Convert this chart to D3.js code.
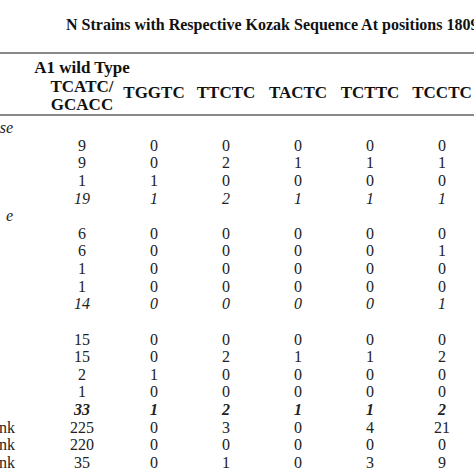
<!DOCTYPE html>
<html><head><meta charset="utf-8">
<script src="https://cdn.jsdelivr.net/npm/d3@7"></script>
<style>body{margin:0;background:#fff}svg{display:block}</style>
</head><body><svg id="c" width="474" height="474"></svg>
<script>
const title = "N Strains with Respective Kozak Sequence At positions 1809–1813";
const columns = ["A1 wild Type|TCATC/|GCACC","TGGTC","TTCTC","TACTC","TCTTC","TCCTC"];
const groupLabels = [[0,"ase"],[5,"e"]];
const rowLabels = [[17,"nk"],[18,"nk"],[19,"nk"]];
const rows = [
 [1,"n",[9,0,0,0,0,0]],
 [2,"n",[9,0,2,1,1,1]],
 [3,"n",[1,1,0,0,0,0]],
 [4,"i",[19,1,2,1,1,1]],
 [6,"n",[6,0,0,0,0,0]],
 [7,"n",[6,0,0,0,0,1]],
 [8,"n",[1,0,0,0,0,0]],
 [9,"n",[1,0,0,0,0,0]],
 [10,"i",[14,0,0,0,0,1]],
 [12,"n",[15,0,0,0,0,0]],
 [13,"n",[15,0,2,1,1,2]],
 [14,"n",[2,1,0,0,0,0]],
 [15,"n",[1,0,0,0,0,0]],
 [16,"bi",[33,1,2,1,1,2]],
 [17,"n",[225,0,3,0,4,21]],
 [18,"n",[220,0,0,0,0,0]],
 [19,"n",[35,0,1,0,3,9]]
];
const svg = d3.select("#c");
const font = "'Liberation Serif','DejaVu Serif',serif";
const x = d3.scalePoint().domain(d3.range(columns.length)).range([82,442]);
const y = d3.scaleLinear().domain([0,19]).range([128,463]);
svg.append("text").attr("x",66).attr("y",30).attr("font-family",font).attr("font-weight","bold")
  .attr("font-size",16).attr("fill","#111").text(title);
svg.append("rect").attr("x",0).attr("y",52).attr("width",474).attr("height",2).attr("fill","#888");
svg.append("rect").attr("x",0).attr("y",114).attr("width",474).attr("height",2).attr("fill","#888");
columns.forEach((c,i)=>{
  const parts=c.split("|");
  const baseY = parts.length>1 ? 73 : 98;
  parts.forEach((p,j)=>{
    svg.append("text").attr("x",x(i)).attr("y",baseY+j*18.5).attr("text-anchor","middle")
      .attr("font-family",font).attr("font-weight","bold").attr("font-size",17).attr("fill","#111").text(p);
  });
});
groupLabels.forEach(([s,t])=>{
  svg.append("text").attr("x",13).attr("y",y(s)+5).attr("text-anchor","end").attr("font-family",font)
    .attr("font-style","italic").attr("font-size",16).attr("fill","#222").text(t);
});
rowLabels.forEach(([s,t])=>{
  svg.append("text").attr("x",15).attr("y",y(s)+5).attr("text-anchor","end").attr("font-family",font)
    .attr("font-size",16).attr("fill","#222").text(t);
});
rows.forEach(([s,st,vals])=>{
  vals.forEach((v,i)=>{
    svg.append("text").attr("x",x(i)).attr("y",y(s)+5).attr("text-anchor","middle").attr("font-family",font)
      .attr("font-size",16).attr("fill","#222")
      .attr("font-style",st.includes("i")?"italic":"normal")
      .attr("font-weight",st.includes("b")?"bold":"normal").text(v);
  });
});
</script></body></html>
